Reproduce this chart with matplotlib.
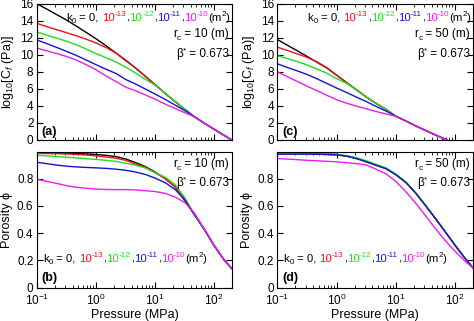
import matplotlib
matplotlib.use("Agg")
import matplotlib.pyplot as plt
import matplotlib.transforms as mtransforms
import numpy as np

plt.rcParams["font.family"] = ["Liberation Sans", "DejaVu Sans"]
plt.rcParams["mathtext.fontset"] = "custom"
plt.rcParams["mathtext.rm"] = "Liberation Sans"
plt.rcParams["mathtext.it"] = "Liberation Sans:italic"
plt.rcParams["mathtext.bf"] = "Liberation Sans:bold"
plt.rcParams["font.size"] = 8.5

# pressure grid (MPa), about 6 points per decade
P = [0.1, 0.15, 0.22, 0.32, 0.46, 0.68, 1.0, 1.5, 2.2, 3.2, 4.6, 6.8,
     10, 15, 22, 32, 46, 68, 100, 150, 200]

# (a) log10 Cf, rc = 10 m
cf10_k0 = [16.0, 15.35, 14.7, 14.08, 13.4, 12.65, 11.9, 11.05, 10.2, 9.37, 8.5,
           7.5, 6.5, 5.45, 4.5, 3.6, 2.75, 1.98, 1.26, 0.52, 0.0]
cf10_k13 = [13.7, 13.3, 12.95, 12.6, 12.25, 11.85, 11.4, 10.85, 10.2, 9.3, 8.5,
            7.5, 6.5, 5.45, 4.5, 3.6, 2.75, 1.98, 1.26, 0.52, 0.0]
cf10_k12 = [12.7, 12.3, 11.95, 11.6, 11.2, 10.7, 10.15, 9.65, 9.15, 8.55, 7.9,
            7.15, 6.45, 5.45, 4.5, 3.6, 2.75, 1.98, 1.26, 0.52, 0.0]
cf10_k11 = [11.75, 11.3, 10.85, 10.4, 9.95, 9.4, 8.85, 8.3, 7.8, 7.1, 6.6,
            6.0, 5.4, 4.75, 4.1, 3.45, 2.75, 1.98, 1.26, 0.52, 0.0]
cf10_k10 = [10.8, 10.45, 10.15, 9.8, 9.4, 8.85, 8.25, 7.5, 6.85, 6.2, 5.8,
            5.3, 4.8, 4.2, 3.7, 3.2, 2.72, 1.98, 1.26, 0.52, 0.0]

# (c) log10 Cf, rc = 50 m (reaches zero near 72 MPa)
P50 = [0.1, 0.15, 0.22, 0.32, 0.46, 0.68, 1.0, 1.5, 2.2, 3.2, 4.6, 6.8,
       10, 15, 22, 32, 46, 68, 72]
cf50_k0 = [11.8, 11.1, 10.45, 9.8, 9.15, 8.46, 7.6, 6.7, 5.85, 5.02, 4.3,
           3.6, 2.78, 2.2, 1.62, 1.1, 0.6, 0.08, 0.0]
cf50_k13 = [10.9, 10.5, 10.1, 9.7, 9.2, 8.5, 7.6, 6.7, 5.85, 5.02, 4.3,
            3.6, 2.78, 2.2, 1.62, 1.1, 0.6, 0.08, 0.0]
cf50_k12 = [9.9, 9.55, 9.2, 8.8, 8.35, 7.85, 7.2, 6.62, 5.82, 5.02, 4.3,
            3.6, 2.78, 2.2, 1.62, 1.1, 0.6, 0.08, 0.0]
cf50_k11 = [8.95, 8.5, 8.1, 7.68, 7.2, 6.65, 6.1, 5.55, 5.0, 4.5, 3.95,
            3.4, 2.78, 2.2, 1.62, 1.1, 0.6, 0.08, 0.0]
cf50_k10 = [8.0, 7.4, 6.85, 6.3, 5.8, 5.25, 4.72, 4.3, 3.95, 3.65, 3.35,
            3.05, 2.78, 2.2, 1.62, 1.1, 0.6, 0.08, 0.0]

# (b) porosity, rc = 10 m
phi10_k0 = [0.99, 0.99, 0.989, 0.987, 0.985, 0.982, 0.978, 0.972, 0.962, 0.945,
            0.92, 0.89, 0.85, 0.80, 0.74, 0.64, 0.54, 0.43, 0.31, 0.2, 0.14]
phi10_k13 = [0.986, 0.985, 0.984, 0.982, 0.979, 0.975, 0.968, 0.96, 0.95, 0.935,
             0.91, 0.885, 0.845, 0.80, 0.74, 0.64, 0.54, 0.43, 0.31, 0.2, 0.14]
phi10_k12 = [0.972, 0.968, 0.963, 0.958, 0.953, 0.947, 0.942, 0.935, 0.927, 0.915,
             0.90, 0.88, 0.845, 0.81, 0.755, 0.66, 0.54, 0.43, 0.31, 0.2, 0.14]
phi10_k11 = [0.921, 0.91, 0.90, 0.892, 0.887, 0.883, 0.88, 0.876, 0.87, 0.862,
             0.85, 0.832, 0.805, 0.77, 0.72, 0.645, 0.54, 0.43, 0.31, 0.2, 0.14]
phi10_k10 = [0.795, 0.78, 0.765, 0.748, 0.738, 0.73, 0.724, 0.721, 0.72, 0.72,
             0.718, 0.712, 0.706, 0.692, 0.665, 0.625, 0.55, 0.43, 0.31, 0.2, 0.14]

# (d) porosity, rc = 50 m
phi50_k0 = [0.984, 0.984, 0.983, 0.982, 0.981, 0.979, 0.977, 0.966, 0.948, 0.925,
            0.9, 0.875, 0.83, 0.77, 0.69, 0.6, 0.51, 0.41, 0.31, 0.21, 0.145]
phi50_k13 = phi50_k0
phi50_k12 = [0.984, 0.984, 0.983, 0.982, 0.981, 0.98, 0.979, 0.97, 0.953, 0.931,
             0.906, 0.88, 0.834, 0.772, 0.69, 0.6, 0.51, 0.41, 0.31, 0.21, 0.145]
phi50_k11 = [0.98, 0.981, 0.981, 0.981, 0.98, 0.978, 0.976, 0.965, 0.947, 0.924,
             0.899, 0.874, 0.829, 0.769, 0.69, 0.6, 0.51, 0.41, 0.31, 0.21, 0.145]
phi50_k10 = [0.948, 0.944, 0.94, 0.935, 0.932, 0.928, 0.924, 0.918, 0.91, 0.9,
             0.87, 0.835, 0.78, 0.7, 0.615, 0.525, 0.435, 0.345, 0.265, 0.19, 0.145]

colors = ["black", "#e8141c", "#20dd20", "#1414cc", "#ee1cee"]
K, R, G, B, M = colors

# label pieces: (text, colour, "" / "sub" / "sup")
k_parts = [("k", K, ""), ("0", K, "sub"), (" = 0, ", K, ""),
           ("10", R, ""), ("-13", R, "sup"), (",", K, ""),
           ("10", G, ""), ("-12", G, "sup"), (",", K, ""),
           ("10", B, ""), ("-11", B, "sup"), (",", K, ""),
           ("10", M, ""), ("-10", M, "sup"), ("(m", K, ""), ("2", K, "sup"), (")", K, "")]
beta_parts = [("β", K, ""), ("*", K, "sup"), (" = 0.673", K, "")]


def rc_parts(rc):
    return [("r", K, ""), ("c", K, "sub"), (" = %s (m)" % rc, K, "")]


def text_width(fig, s, fs):
    rend = fig.canvas.get_renderer()
    t = fig.text(0, 0, s + "|", fontsize=fs)
    w1 = t.get_window_extent(rend).width
    t.set_text("|")
    w2 = t.get_window_extent(rend).width
    t.remove()
    return w1 - w2


def rich(ax, x, y, parts, size, ha="left"):
    fig = ax.figure
    sizes = [size * 0.7 if kind else size for _, _, kind in parts]
    widths = [text_width(fig, s, fs) for (s, _, _), fs in zip(parts, sizes)]
    off = -sum(widths) if ha == "right" else 0.0
    for (s, c, kind), fs, w in zip(parts, sizes, widths):
        dy = {"": 0.0, "sub": -0.22 * size, "sup": 0.42 * size}[kind] * fig.dpi / 72
        tr = mtransforms.offset_copy(ax.transAxes, fig=fig, x=off, y=dy, units="dots")
        ax.text(x, y, s, color=c, fontsize=fs, transform=tr, ha="left", va="baseline")
        off += w


def style(ax, top):
    ax.set_xscale("log")
    ax.set_xlim(0.1, 200)
    ax.tick_params(which="both", direction="in", top=True, right=True, labelsize=8.5)
    ax.tick_params(axis="y", pad=2.5)
    ax.tick_params(axis="x", pad=4)
    ax.tick_params(which="major", length=4)
    ax.tick_params(which="minor", length=2)
    if top:
        ax.set_ylim(0, 16)
        ax.set_yticks(np.arange(0, 17, 2))
        ax.set_xticklabels([])
        ax.set_ylabel("log$_{10}$[C$_f$ (Pa)]", fontsize=9, labelpad=3)
    else:
        ax.set_ylim(0, 1)
        ax.set_yticks([0, 0.2, 0.4, 0.6, 0.8])
        ax.set_yticklabels(["0", "0.2", "0.4", "0.6", "0.8"])
        ax.set_xlabel("Pressure (MPa)", fontsize=9, labelpad=0.5)
        ax.set_ylabel("Porosity ϕ", fontsize=9, labelpad=3)


fig = plt.figure(figsize=(4.74, 3.21), dpi=100)
ax_a = fig.add_axes([0.078, 0.564, 0.411, 0.424])
ax_b = fig.add_axes([0.078, 0.104, 0.411, 0.424])
ax_c = fig.add_axes([0.5854, 0.564, 0.4125, 0.424])
ax_d = fig.add_axes([0.5854, 0.104, 0.4125, 0.424])

panels = [
    (ax_a, P, [cf10_k0, cf10_k13, cf10_k12, cf10_k11, cf10_k10], True, "10", "(a)"),
    (ax_b, P, [phi10_k0, phi10_k13, phi10_k12, phi10_k11, phi10_k10], False, "10", "(b)"),
    (ax_c, P50, [cf50_k0, cf50_k13, cf50_k12, cf50_k11, cf50_k10], True, "50", "(c)"),
    (ax_d, P, [phi50_k0, phi50_k13, phi50_k12, phi50_k11, phi50_k10], False, "50", "(d)"),
]

for ax, p, series, top, rc, tag in panels:
    for ys, c in zip(series, colors):
        ax.plot(p, ys, color=c, lw=1.0)
    style(ax, top)
    if top:
        rich(ax, 0.99, 0.875, k_parts, 8.2, ha="right")
        rich(ax, 0.985, 0.755, rc_parts(rc), 8.5, ha="right")
        rich(ax, 0.985, 0.61, beta_parts, 8.5, ha="right")
        ax.text(0.024, 0.04, tag, fontsize=9, fontweight="bold", va="baseline", transform=ax.transAxes)
    else:
        rich(ax, 0.985, 0.886, rc_parts(rc), 8.5, ha="right")
        rich(ax, 0.985, 0.746, beta_parts, 8.5, ha="right")
        rich(ax, 0.032, 0.19, k_parts, 8.2, ha="left")
        ax.text(0.024, 0.05, tag, fontsize=9, fontweight="bold", va="baseline", transform=ax.transAxes)

fig.savefig("out.png", dpi=100)
